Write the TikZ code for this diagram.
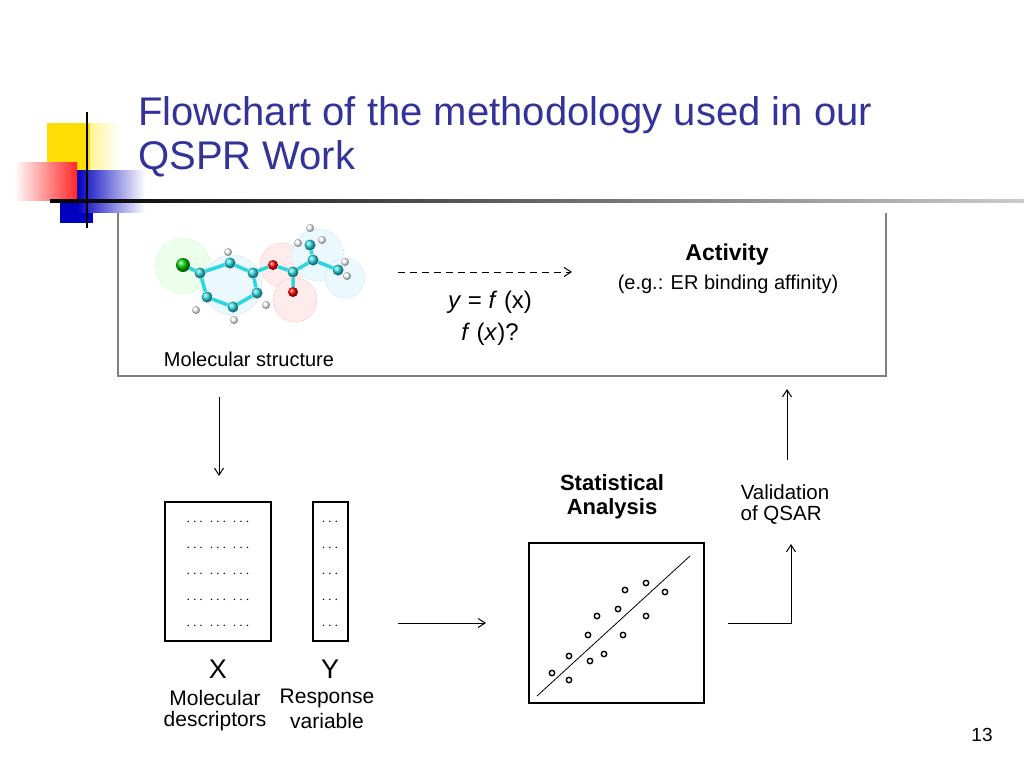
\documentclass[tikz,border=0pt]{standalone}
\usepackage{fontspec}
\setmainfont{Liberation Sans}
\usetikzlibrary{arrows.meta}
\definecolor{navy}{RGB}{51,51,153}
\definecolor{cy}{RGB}{40,215,225}
\begin{document}
\begin{tikzpicture}[x=1pt,y=-1pt,
  lbl/.style={font=\fontsize{20}{22}\selectfont,inner sep=0pt},
  blbl/.style={font=\fontsize{22}{24}\selectfont\bfseries,inner sep=0pt},
  arr/.style={-{Straight Barb[length=7pt,width=9pt]},line width=1pt},
  atom/.style={circle,ball color=cy,inner sep=0pt,minimum size=11pt},
  hyd/.style={circle,ball color=white,inner sep=0pt,minimum size=8pt},
  cloud/.style={circle,draw=#1!50,densely dotted,fill=#1!8,inner sep=0pt}]
\useasboundingbox (0,0) rectangle (1024,768);
\fill[white] (0,0) rectangle (1024,768);
% logo
\shade[left color=yellow!80!orange,right color=white] (47,123) rectangle (120,175);
\fill[yellow!80!orange] (47,123) rectangle (90,175);
\fill[blue!75!black] (60,195) rectangle (93,223);
\shade[left color=blue!75!black,right color=white] (77,170) rectangle (145,212);
\shade[left color=white,right color=red!85] (14,162) rectangle (77,200);
\draw[line width=2pt] (87,112) -- (87,228);
\shade[left color=black,right color=gray!40] (50,199.5) rectangle (1024,202.5);
% title
\node[anchor=west,text=navy,font=\fontsize{40}{44}\selectfont,align=left,inner sep=0pt] (title) at (138,137) {Flowchart of the methodology used in our\\QSPR Work};
% top box
\draw[gray,line width=1.2pt] (118,213) -- (118,376) -- (886,376) -- (886,213);
% molecule
\node[cloud=green,minimum size=55pt] (c1) at (183,266) {};
\node[cloud=cyan,minimum size=60pt] (c2) at (232,285) {};
\node[cloud=red,minimum size=44pt] (c3) at (282,265) {};
\node[cloud=red,minimum size=44pt] (c4) at (295,300) {};
\node[cloud=cyan,minimum size=52pt] (c5) at (318,255) {};
\node[cloud=cyan,minimum size=40pt] (c6) at (345,278) {};
\node[hyd] (h1) at (228,252) {};
\node[hyd] (h2) at (266,305) {};
\node[hyd] (h3) at (234,320) {};
\node[hyd] (h4) at (196,310) {};
\node[hyd] (h5) at (298,243) {};
\node[hyd] (h6) at (310,228) {};
\node[hyd] (h7) at (322,240) {};
\node[hyd] (h8) at (345,262) {};
\node[hyd] (h9) at (347,276) {};
\node[atom] (a1) at (200,273) {};
\node[atom] (a2) at (230,263) {};
\node[atom] (a3) at (253,273) {};
\node[atom] (a4) at (257,293) {};
\node[atom] (a5) at (233,307) {};
\node[atom] (a6) at (207,297) {};
\draw[cy,line width=3.5pt] (a1)--(a2)--(a3)--(a4)--(a5)--(a6)--(a1);
\node[circle,ball color=green!80!black,inner sep=0pt,minimum size=14pt] (cl) at (183,265) {};
\node[circle,ball color=red,inner sep=0pt,minimum size=10pt] (o1) at (273,265) {};
\node[atom] (a7) at (293,272) {};
\node[circle,ball color=red,inner sep=0pt,minimum size=10pt] (o2) at (293,292) {};
\node[atom] (a8) at (313,260) {};
\node[atom] (a9) at (310,245) {};
\node[atom] (a10) at (338,270) {};
\draw[cy,line width=3.5pt] (cl)--(a1) (a3)--(o1)--(a7)--(o2) (a7)--(a8)--(a9) (a8)--(a10);
\node[lbl] (ms) at (249,359) {Molecular structure};
% relation
\coordinate (d1) at (398,272); \coordinate (d2) at (572,272);
\draw[arr,dash pattern=on 7pt off 5pt] (d1) -- (d2);
\node[font=\fontsize{24}{26}\selectfont,inner sep=0pt] (yf) at (490,302) {\textit{y} = \textit{f} (x)};
\node[font=\fontsize{24}{26}\selectfont,inner sep=0pt] (fx) at (490,334) {\textit{f} (\textit{x})?};
\node[blbl,font=\fontsize{23}{25}\selectfont\bfseries] (act) at (727,255) {Activity};
\node[lbl] (eg) at (728,284) {(e.g.: ER binding affinity)};
% down arrow
\coordinate (da1) at (219,397); \coordinate (da2) at (219,476);
\draw[arr] (da1) -- (da2);
% matrices
\draw[line width=1.2pt] (165,502) rectangle (271,641);
\draw[line width=1.2pt] (313,502) rectangle (348,641);
\foreach \y in {522,548,574,600,626}{
  \node[font=\fontsize{15}{15}\selectfont,inner sep=0pt] at (218,\y) {$\cdots\;\cdots\;\cdots$};
  \node[font=\fontsize{15}{15}\selectfont,inner sep=0pt] at (330,\y) {$\cdots$};
}
\node[font=\fontsize{27}{29}\selectfont,inner sep=0pt] (X) at (218,669) {X};
\node[lbl,font=\fontsize{21}{23}\selectfont] (md1) at (215,698) {Molecular};
\node[lbl,font=\fontsize{21}{23}\selectfont] (md2) at (215,721) {descriptors};
\node[font=\fontsize{27}{29}\selectfont,inner sep=0pt] (Y) at (330,669) {Y};
\node[lbl,font=\fontsize{21}{23}\selectfont] (rv1) at (327,698) {Response};
\node[lbl,font=\fontsize{21}{23}\selectfont] (rv2) at (327,721) {variable};
\coordinate (ra1) at (398,623); \coordinate (ra2) at (486,623);
\draw[arr] (ra1) -- (ra2);
% statistical
\node[blbl] (sa1) at (612,483) {Statistical};
\node[blbl] (sa2) at (612,509) {Analysis};
\draw[line width=1.3pt] (529,543) rectangle (704,703);
\coordinate (l1) at (537,696); \coordinate (l2) at (690,556);
\draw[line width=0.8pt] (l1) -- (l2);
\foreach \p in {(552,673),(569,656),(569,680),(588,635),(590,661),(597,616),(604,654),(618,609),(623,635),(625,590),(646,583),(646,616),(665,592)}
  \draw[line width=1.4pt] \p circle (2.7);
% validation
\coordinate (v1) at (728,623); \coordinate (v2) at (791,544);
\draw[arr] (v1) -| (v2);
\node[lbl,font=\fontsize{20.5}{23}\selectfont] (val1) at (785,492) {Validation};
\node[lbl,font=\fontsize{20.5}{23}\selectfont,anchor=west] (val2) at (740.5,515) {of QSAR};
\coordinate (u1) at (787,460); \coordinate (u2) at (787,389);
\draw[arr] (u1) -- (u2);
\node[lbl,font=\fontsize{19}{21}\selectfont] (pg) at (982,735) {13};
\end{tikzpicture}
\end{document}
